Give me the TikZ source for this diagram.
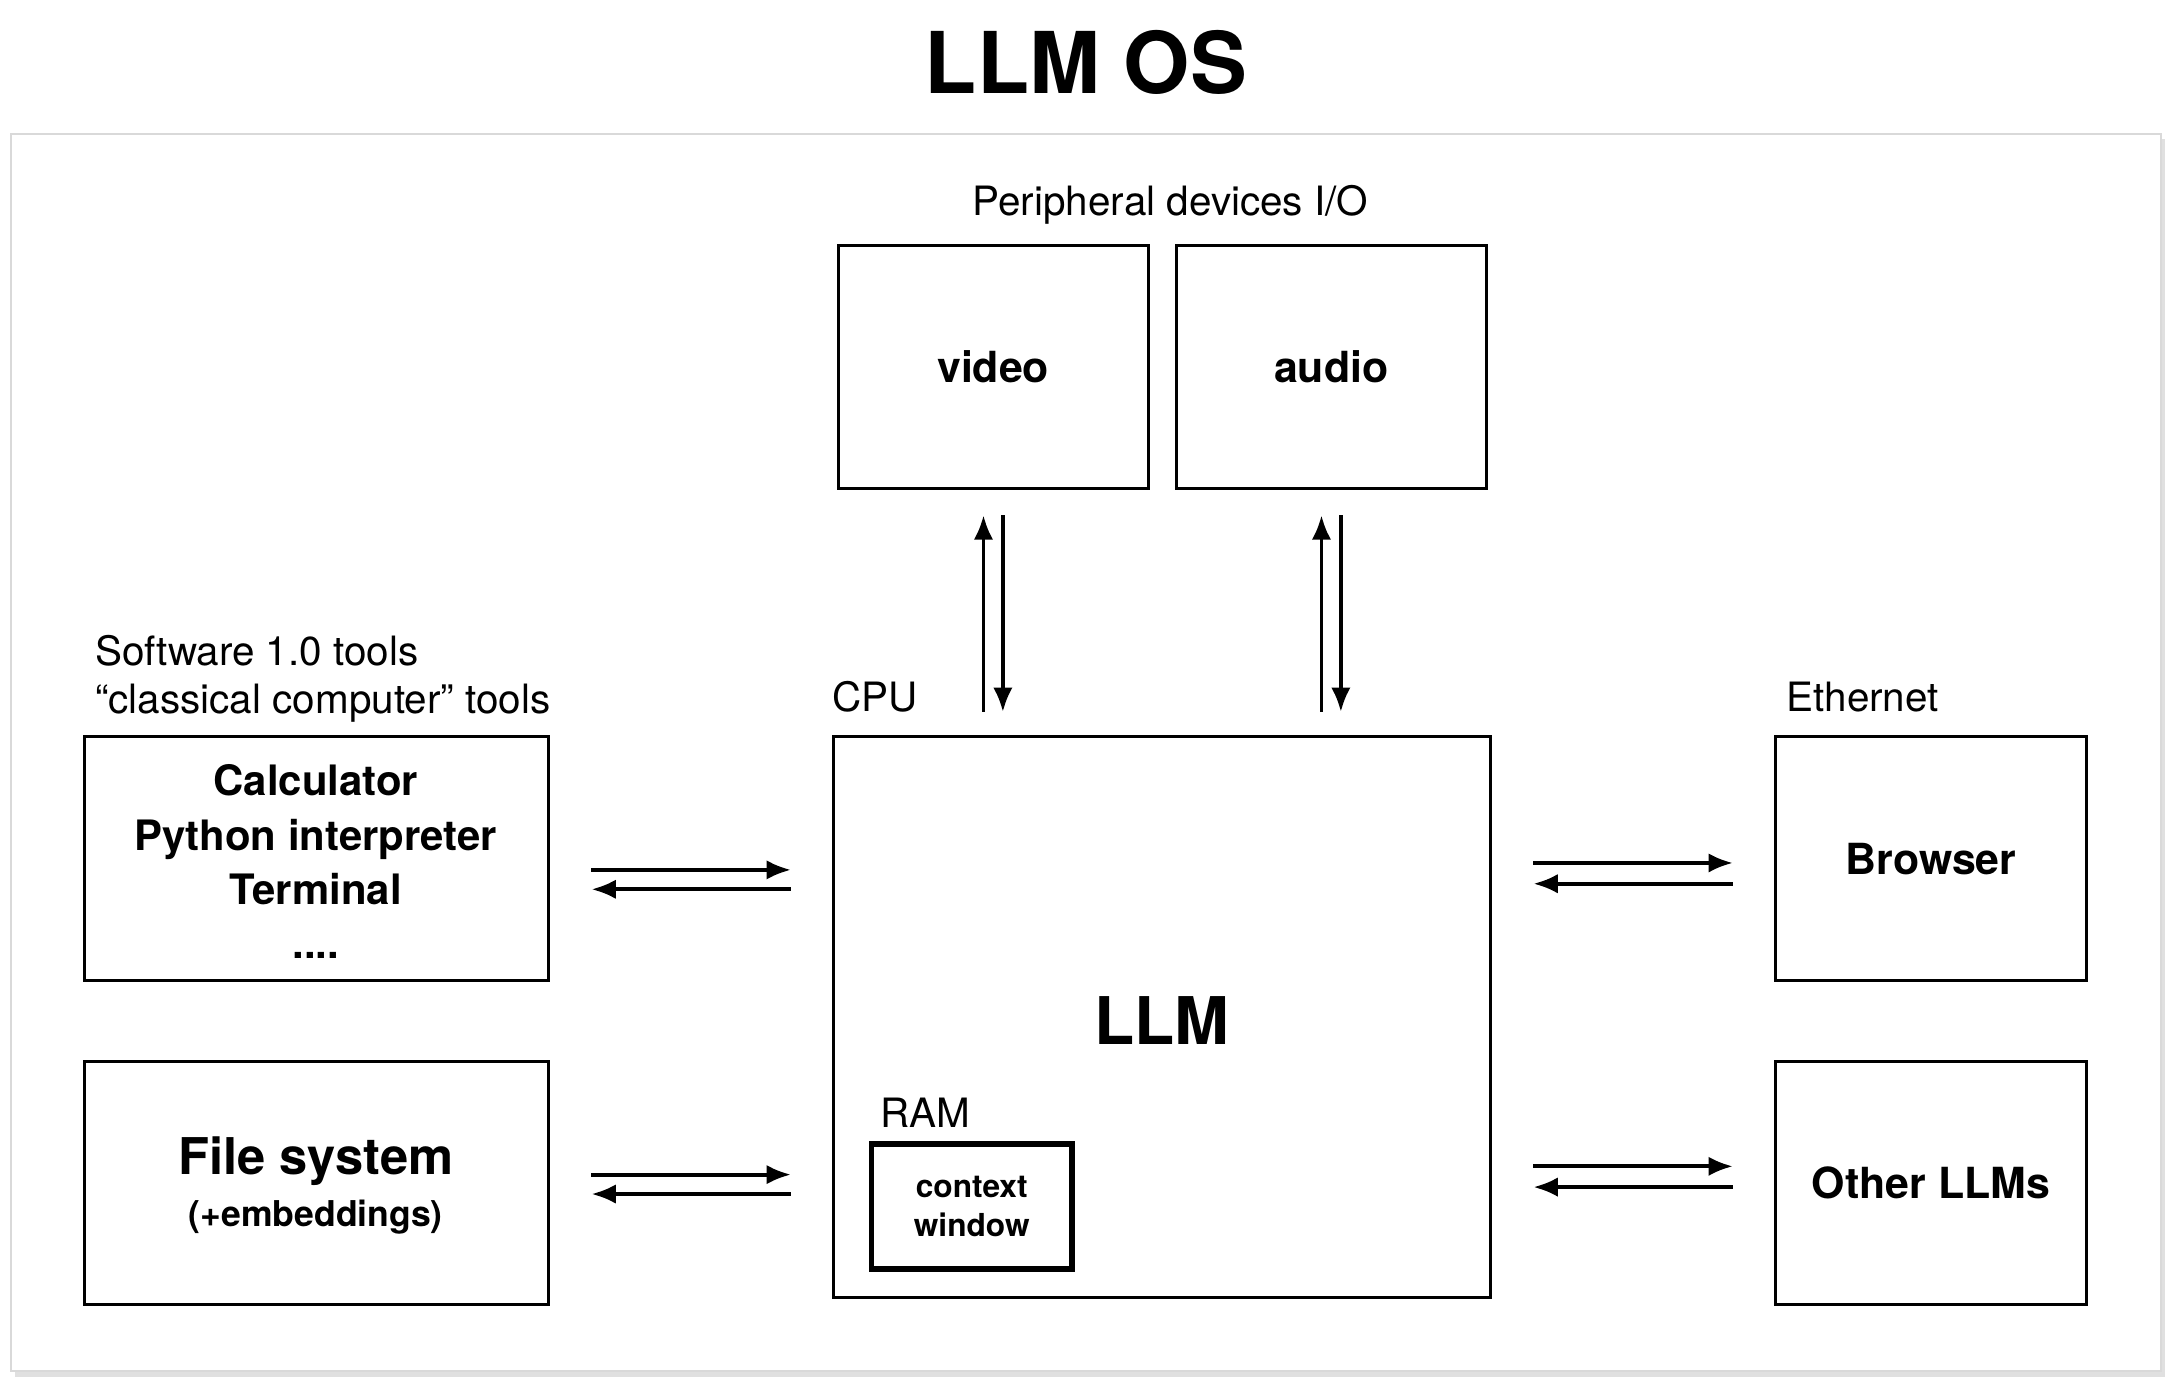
\documentclass[tikz,border=0pt]{standalone}
\usepackage{fontspec}
\setmainfont{TeX Gyre Heros}
\usetikzlibrary{arrows.meta}
\begin{document}
\begin{tikzpicture}[x=0.01cm,y=-0.01cm,
 box/.style={draw,line width=0.6pt,inner sep=0pt},
 lab/.style={font=\fontsize{8.3}{10}\selectfont},
 bl/.style={font=\fontsize{8.8}{11}\selectfont\bfseries,align=center},
 ar/.style={line width=0.8pt,-{Latex[length=5pt,width=4pt]}}]
\useasboundingbox (0,0) rectangle (1568,1001);
\fill[black!12] (11,100) rectangle (1563,994);
\draw[black!15,fill=white] (8,97) rectangle (1560,990);
\node[font=\fontsize{17.5}{21}\selectfont\bfseries] (title) at (784,45) {LLM OS};
% boxes
\draw[box] (605,177) rectangle (829,353) node[midway,bl] (video) {video};
\draw[box] (849,177) rectangle (1073,353) node[midway,bl] (audio) {audio};
\node[lab] (per) at (845,148) {Peripheral devices I/O};
\draw[box] (602,532) rectangle (1076,937);
\node[font=\fontsize{13.5}{16}\selectfont\bfseries] (llm) at (839,737) {LLM};
\node[lab,anchor=west,inner sep=0] (cpu) at (600,503) {CPU};
\node[lab,anchor=west,inner sep=0] (ram) at (635,803) {RAM};
\draw[line width=1.1pt] (629,826) rectangle (774,916) node[midway,align=center,font=\fontsize{6.5}{8}\selectfont\bfseries] (ctx) {context\\window};
\draw[box] (61,532) rectangle (396,708);
\node[bl,font=\fontsize{8.6}{11.1}\selectfont\bfseries] (tools) at (228,622) {Calculator\\Python interpreter\\Terminal\\....};
\node[lab,anchor=west,align=left,inner sep=0] (sw) at (68,490) {Software 1.0 tools\\“classical computer” tools};
\draw[box] (61,766) rectangle (396,942);
\node[font=\fontsize{10.4}{13}\selectfont\bfseries] (fs) at (228,838) {File system};
\node[font=\fontsize{7.3}{10}\selectfont\bfseries] (emb) at (228,879) {(+embeddings)};
\draw[box] (1282,532) rectangle (1506,708) node[midway,bl] (browser) {Browser};
\node[lab,anchor=west,inner sep=0] (eth) at (1289,503) {Ethernet};
\draw[box] (1282,766) rectangle (1506,942) node[midway,bl] (other) {Other LLMs};
% arrow endpoints
\foreach \n/\y in {t/628,f/848} {
 \coordinate (\n a) at (427,\y); \coordinate (\n b) at (571,\y);
 \coordinate (\n c) at (571,\y+14); \coordinate (\n d) at (427,\y+14);
 \draw[ar] (\n a) -- (\n b); \draw[ar] (\n c) -- (\n d);}
\foreach \n/\y in {b/623,o/842} {
 \coordinate (\n a) at (1107,\y); \coordinate (\n b) at (1251,\y);
 \coordinate (\n c) at (1251,\y+15); \coordinate (\n d) at (1107,\y+15);
 \draw[ar] (\n a) -- (\n b); \draw[ar] (\n c) -- (\n d);}
\foreach \n/\x in {v/710,s/954} {
 \coordinate (\n a) at (\x,514); \coordinate (\n b) at (\x,372);
 \coordinate (\n c) at (\x+14,372); \coordinate (\n d) at (\x+14,514);
 \draw[ar] (\n a) -- (\n b); \draw[ar] (\n c) -- (\n d);}
\end{tikzpicture}
\end{document}
